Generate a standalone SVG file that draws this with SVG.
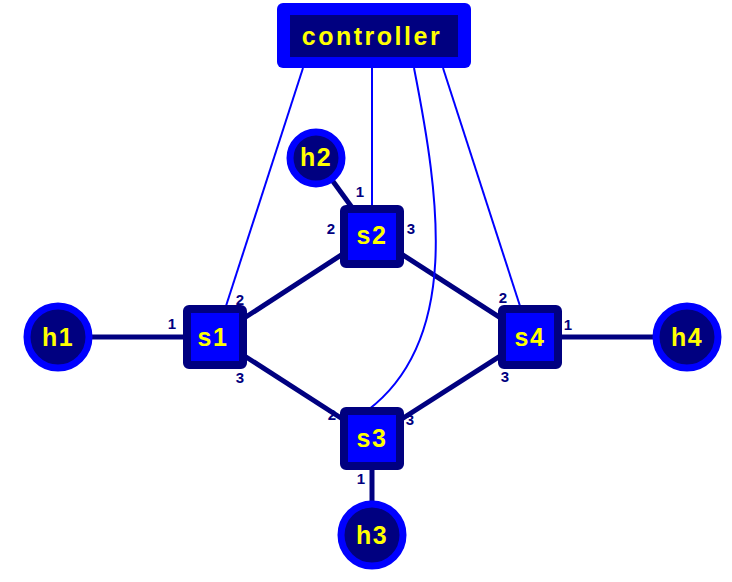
<svg xmlns="http://www.w3.org/2000/svg" width="732" height="582" viewBox="0 0 732 582">
<style>
.sw rect{fill:#0000ff;stroke:#000080;stroke-width:8}
.h circle{fill:#000080;stroke:#0000ff;stroke-width:7}
.lbl{font-family:"Liberation Sans",Arial,sans-serif;font-weight:bold;fill:#ffff00;font-size:25px;text-anchor:middle;letter-spacing:1.5px}
.p{font-family:"Liberation Sans",Arial,sans-serif;font-weight:bold;fill:#000080;font-size:15px;text-anchor:middle}
.d{stroke:#000080;stroke-width:5;fill:none}
.c{stroke:#0000ff;stroke-width:2;fill:none}
</style>
<rect width="732" height="582" fill="#fff"/>
<g id="connectors">
<line class="d" x1="58" y1="337" x2="215" y2="337"/>
<line class="d" x1="215" y1="337" x2="372" y2="235"/>
<line class="d" x1="215" y1="337" x2="372" y2="438"/>
<line class="d" x1="372" y1="235" x2="530" y2="337"/>
<line class="d" x1="372" y1="438" x2="530" y2="337"/>
<line class="d" x1="530" y1="337" x2="687" y2="337"/>
<line class="d" x1="372" y1="438" x2="372" y2="535"/>
<line class="d" x1="316" y1="158" x2="372" y2="235"/>
<line class="c" x1="303" y1="68" x2="226" y2="306"/>
<line class="c" x1="372" y1="68" x2="372" y2="206"/>
<path class="c" d="M414,68 C440,200 460,340 368,410"/>
<line class="c" x1="443" y1="68" x2="520" y2="306"/>
</g>
<g id="controller">
<rect x="277" y="3" width="194" height="65" rx="6" fill="#0000ff"/>
<rect x="290" y="15" width="168" height="42" fill="#000080"/>
<text class="lbl" x="372" y="45" style="letter-spacing:2.5px">controller</text>
</g>
<g id="s1" class="sw"><rect x="187" y="309" width="56" height="56" rx="2"/><text class="lbl" x="213" y="346">s1</text></g>
<g id="s2" class="sw"><rect x="344" y="209" width="56" height="55" rx="2"/><text class="lbl" x="372" y="244">s2</text></g>
<g id="s3" class="sw"><rect x="344" y="411" width="56" height="55" rx="2"/><text class="lbl" x="372" y="447">s3</text></g>
<g id="s4" class="sw"><rect x="502" y="309" width="56" height="56" rx="2"/><text class="lbl" x="530" y="346">s4</text></g>
<g id="h1" class="h"><circle cx="58" cy="337" r="31"/><text class="lbl" x="58" y="346">h1</text></g>
<g id="h2" class="h"><circle cx="316" cy="158" r="26"/><text class="lbl" x="316" y="166">h2</text></g>
<g id="h3" class="h"><circle cx="372" cy="535" r="31"/><text class="lbl" x="372" y="544">h3</text></g>
<g id="h4" class="h"><circle cx="687" cy="337" r="31"/><text class="lbl" x="687" y="346">h4</text></g>
<g id="ports">
<text class="p" x="172" y="329">1</text><text class="p" x="240" y="305">2</text><text class="p" x="240" y="383">3</text>
<text class="p" x="360" y="197">1</text><text class="p" x="331" y="234">2</text><text class="p" x="411" y="234">3</text>
<text class="p" x="361" y="484">1</text><text class="p" x="332" y="420">2</text><text class="p" x="410" y="425">3</text>
<text class="p" x="568" y="330">1</text><text class="p" x="503" y="303">2</text><text class="p" x="505" y="382">3</text>
</g>
</svg>
